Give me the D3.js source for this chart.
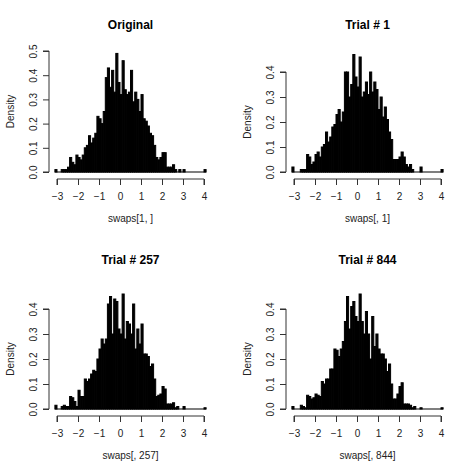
<!DOCTYPE html>
<html><head><meta charset="utf-8">
<script src="https://cdn.jsdelivr.net/npm/d3@7"></script>
<style>body{margin:0;background:#fff}svg{display:block}text{font-family:"Liberation Sans",Arial,sans-serif}</style>
</head><body>
<script>
// bins of width 0.1, left edges -3.1 .. 4.0
const binStart = -3.1, binWidth = 0.1
const titles = ["Original", "Trial # 1", "Trial # 257", "Trial # 844"]
const xlabels = ["swaps[1, ]", "swaps[, 1]", "swaps[, 257]", "swaps[, 844]"]
const yMax = [0.5, 0.4, 0.4, 0.4]
const xTicks = [-3, -2, -1, 0, 1, 2, 3, 4]

const original = [.01,0,0,.01,.01,.01,.02,.06,.04,.03,.07,.06,.05,.07,.1,.11,.15,.12,.14,.16,.23,.22,.2,.25,.39,.43,.35,.42,.33,.49,.37,
  .32,.46,.34,.32,.33,.42,.29,.33,.3,.25,.32,.22,.21,.19,.16,.15,.11,.06,.05,.06,.08,.08,.02,.02,.02,.03,.01,0,.01,0,.01,0,0,0,0,0,0,0,0,0,.01]
const trial1 = [.02,0,0,0,.01,.01,.01,.07,.06,.03,.04,.07,.08,.06,.1,.11,.16,.12,.14,.18,.19,.23,.25,.2,.24,.4,.4,.3,.35,.47,.38,
  .34,.46,.3,.32,.36,.31,.4,.32,.36,.33,.25,.3,.22,.26,.21,.16,.13,.05,.05,.05,.06,.08,.06,.03,.02,.03,.01,0,0,0,.02,0,0,0,0,0,0,0,0,0,.01]
const trial257 = [.015,0,0,.01,.015,.01,.01,.05,.045,.03,.01,.075,.05,.05,.12,.11,.12,.14,.155,.15,.2,.24,.28,.26,.28,.42,.45,.3,.44,.43,.32,
  .3,.46,.28,.35,.34,.3,.42,.24,.32,.26,.34,.22,.22,.21,.17,.18,.12,.05,.055,.06,.09,.08,.02,.02,.02,.025,.005,.01,0,0,.01,0,0,0,0,0,0,0,0,0,.005]
const trial844 = [.01,0,0,0,.015,.01,.005,.055,.05,.04,.045,.06,.055,.05,.11,.1,.12,.12,.16,.16,.24,.235,.21,.24,.27,.35,.45,.32,.41,.43,.37,
  .35,.46,.35,.3,.39,.3,.2,.37,.25,.3,.24,.22,.22,.2,.15,.18,.1,.04,.04,.06,.09,.105,.02,.02,.02,.015,.005,.01,0,0,.005,0,0,0,0,0,0,0,0,0,.005]
const series = [original, trial1, trial257, trial844]

const svg = d3.select("body").append("svg").attr("width", 474).attr("height", 474)

const panels = [
  {x0: 57, x1: 204, y0: 172, titleY: 29},
  {x0: 294, x1: 441, y0: 172, titleY: 29},
  {x0: 57, x1: 204, y0: 409, titleY: 264},
  {x0: 294, x1: 441, y0: 409, titleY: 264},
]

panels.forEach((p, i) => {
  const g = svg.append("g")
  const x = d3.scaleLinear().domain([-3, 4]).range([p.x0, p.x1])
  const yTop = i == 0 ? 51 : (p.y0 - 100)
  const y = d3.scaleLinear().domain([0, yMax[i]]).range([p.y0, yTop])
  const bins = series[i].map((v, k) => ({x0: binStart + k * binWidth, v}))

  g.selectAll("rect").data(bins).join("rect")
    .attr("x", d => x(d.x0))
    .attr("width", x(binWidth) - x(0))
    .attr("y", d => y(d.v))
    .attr("height", d => y(0) - y(d.v))
    .attr("fill", "black").attr("stroke", "black").attr("stroke-width", 1)
  // bar borders along the baseline (empty bins)
  g.append("line")
    .attr("x1", x(binStart)).attr("x2", x(binStart + bins.length * binWidth))
    .attr("y1", y(0)).attr("y2", y(0)).attr("stroke", "black").attr("stroke-width", 1.2)

  const xa = g.append("g").attr("transform", `translate(0,${p.y0 + 7})`)
    .call(d3.axisBottom(x).tickValues(xTicks).tickSize(6).tickPadding(8).tickFormat(d3.format("d")))
  const ya = g.append("g").attr("transform", `translate(${p.x0 - 8},0)`)
    .call(d3.axisLeft(y).ticks(yMax[i] * 10).tickSize(6).tickFormat(d3.format(".1f")))
  ;[xa, ya].forEach(a => {
    a.select(".domain").attr("stroke", "#333")
    a.selectAll("line").attr("stroke", "#333")
    a.selectAll("text").attr("font-size", 10).attr("fill", "#222")
  })
  xa.selectAll(".domain").attr("d", `M${x(-3)},6V0H${x(4)}V6`)
  ya.selectAll(".domain").attr("d", `M-6,${y(0)}H0V${y(yMax[i])}H-6`)
  ya.selectAll(".tick text").attr("transform", "rotate(-90)").attr("x", 0).attr("y", -12)
    .attr("dy", 0).attr("text-anchor", "middle")

  const cx = (p.x0 + p.x1) / 2
  g.append("text").attr("x", cx).attr("y", p.titleY).attr("text-anchor", "middle")
    .attr("font-size", 12).attr("font-weight", "bold").text(titles[i])
  g.append("text").attr("x", cx).attr("y", p.y0 + 50).attr("text-anchor", "middle")
    .attr("font-size", 10).attr("fill", "#222").text(xlabels[i])
  g.append("text").attr("transform", `translate(${p.x0 - 43},${(p.y0 + yTop) / 2}) rotate(-90)`)
    .attr("text-anchor", "middle").attr("font-size", 10).attr("fill", "#222").text("Density")
})
</script>
</body></html>
